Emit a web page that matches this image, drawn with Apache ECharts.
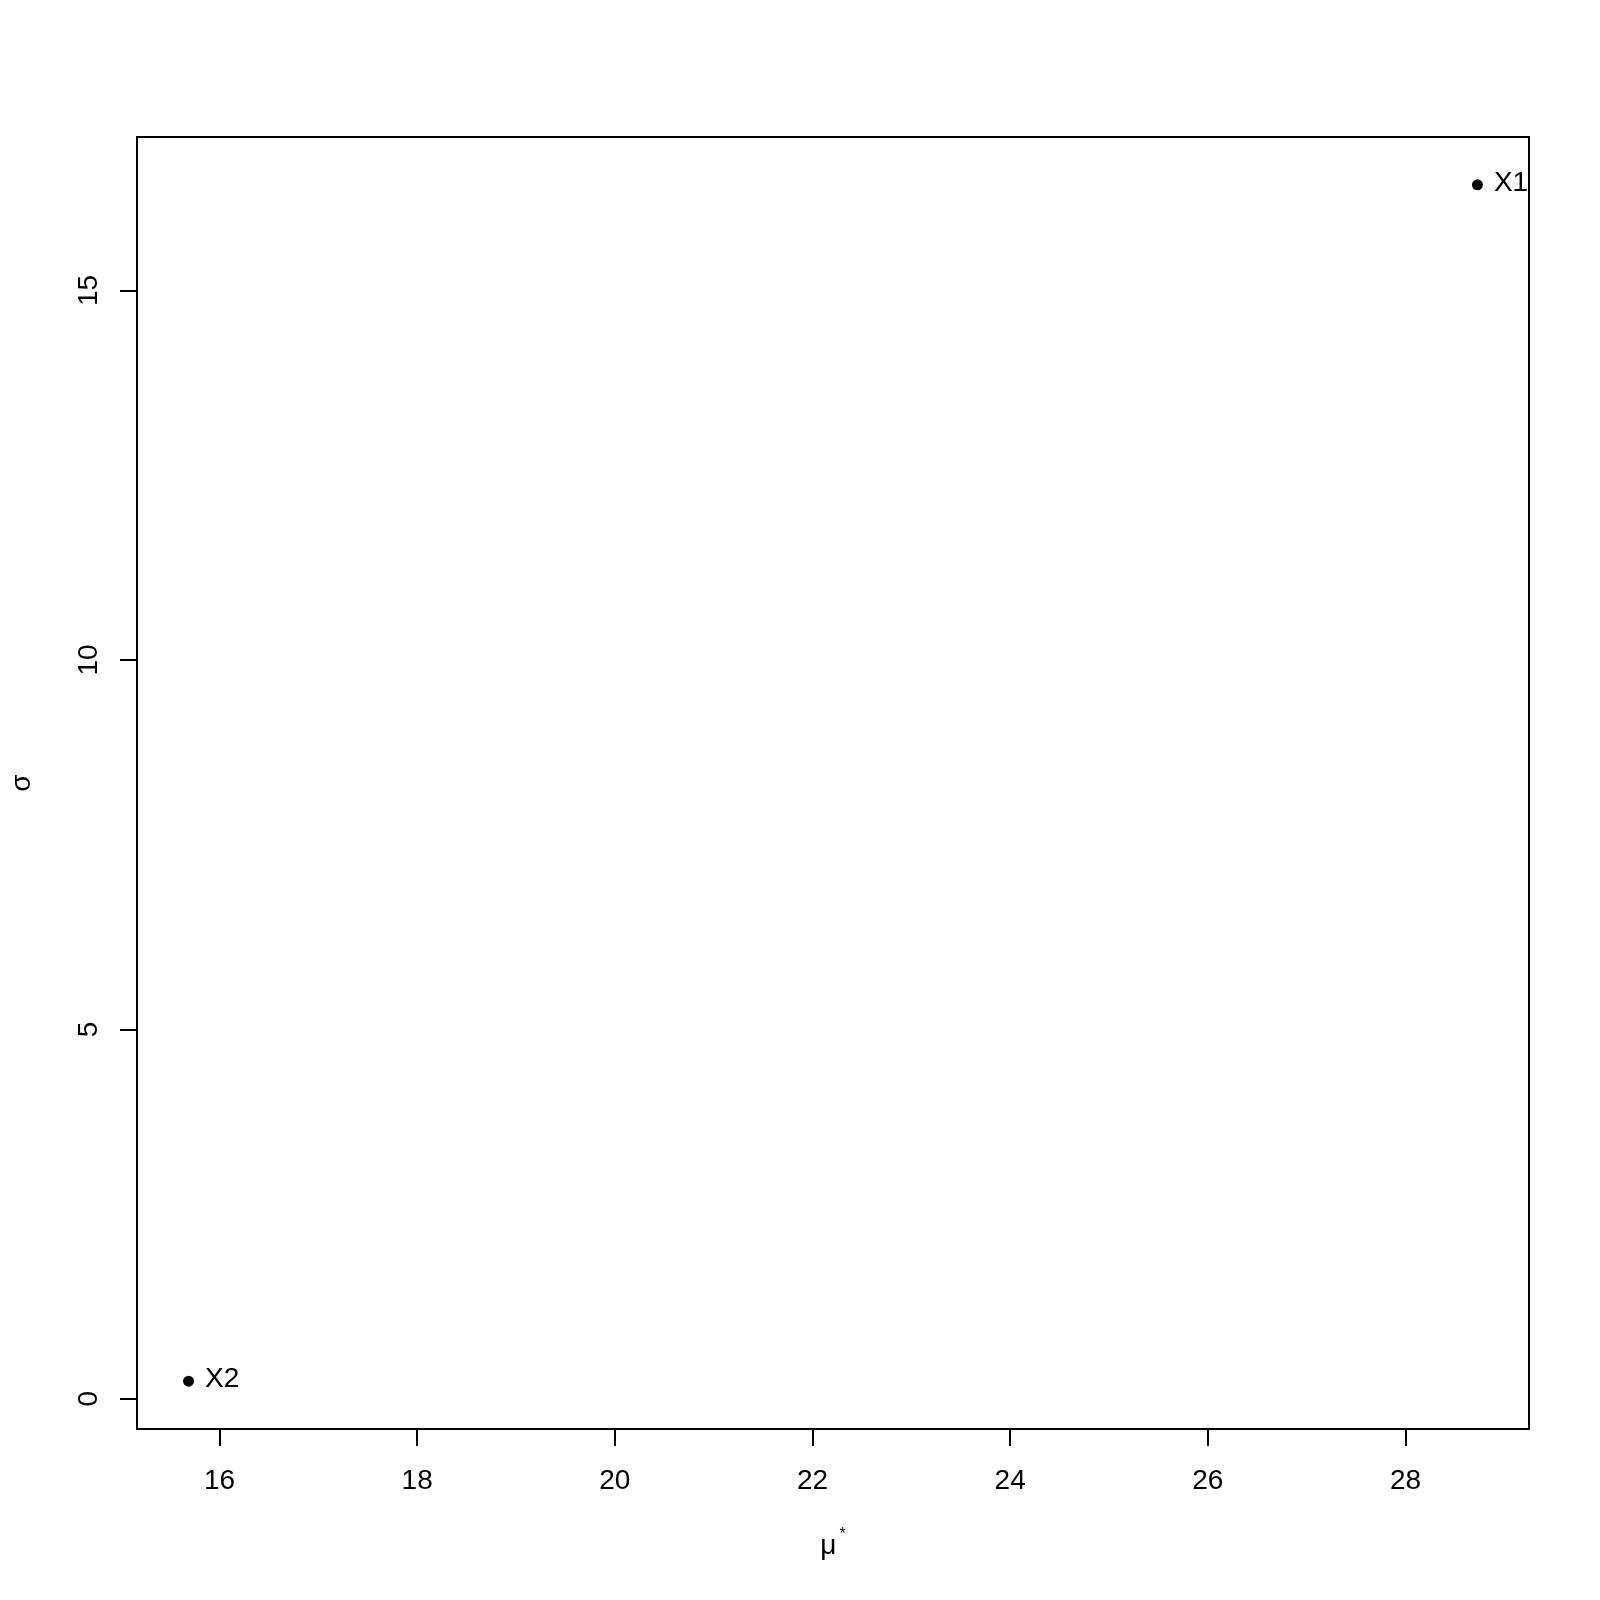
<!DOCTYPE html>
<html>
<head>
<meta charset="utf-8">
<script src="https://cdn.jsdelivr.net/npm/echarts@6/dist/echarts.min.js"></script>
<style>html,body{margin:0;padding:0;background:#fff;}#c{width:1600px;height:1600px;}</style>
</head>
<body>
<div id="c"></div>
<script>
const names = ['X1', 'X2'];
const muStar = [28.728, 15.687];
const sigma = [16.43, 0.239];
const xTicks = [16, 18, 20, 22, 24, 26, 28];
const yTicks = [0, 5, 10, 15];

const FONT = 'Liberation Sans';
const pts = names.map((n, i) => ({ name: n, value: [muStar[i], sigma[i]] }));
const xr = [Math.min(...muStar), Math.max(...muStar)];
const yr = [Math.min(...sigma), Math.max(...sigma)];
const xPad = (xr[1] - xr[0]) * 0.04, yPad = (yr[1] - yr[0]) * 0.04;

const chart = echarts.init(document.getElementById('c'));
chart.setOption({
  backgroundColor: '#fff',
  animation: false,
  grid: { left: 136, right: 71, top: 137, bottom: 171, show: true, borderColor: '#000', borderWidth: 2, backgroundColor: 'transparent' },
  xAxis: {
    type: 'value', min: xr[0] - xPad, max: xr[1] + xPad,
    name: '{m|μ}{s|*}', nameLocation: 'middle', nameGap: 98,
    nameTextStyle: { fontFamily: FONT, color: '#000', rich: { m: { fontSize: 28, fontFamily: FONT, color: '#000' }, s: { fontSize: 16, fontFamily: FONT, color: '#000', verticalAlign: 'top', padding: [0, 0, 22, 3] } } },
    axisLine: { show: false, onZero: false },
    axisTick: { show: true, inside: false, length: 17, lineStyle: { color: '#000', width: 2 }, customValues: xTicks },
    axisLabel: { fontFamily: FONT, fontSize: 28, color: '#000', margin: 38, customValues: xTicks },
    splitLine: { show: false }
  },
  yAxis: {
    type: 'value', min: yr[0] - yPad, max: yr[1] + yPad,
    name: 'σ', nameLocation: 'middle', nameGap: 101,
    nameTextStyle: { fontFamily: FONT, fontSize: 28, color: '#000' },
    axisLine: { show: false, onZero: false },
    axisTick: { show: true, inside: false, length: 17, lineStyle: { color: '#000', width: 2 }, customValues: yTicks },
    axisLabel: { fontFamily: FONT, fontSize: 28, color: '#000', margin: 34, rotate: 90, customValues: yTicks },
    splitLine: { show: false }
  },
  series: [{
    type: 'scatter',
    data: pts,
    symbol: 'circle',
    symbolSize: 11,
    itemStyle: { color: '#000', opacity: 1 },
    label: { show: true, position: 'right', distance: 11, offset: [0, -2], formatter: '{b}', fontFamily: FONT, fontSize: 28, color: '#000', opacity: 1 }
  }]
});
</script>
</body>
</html>
